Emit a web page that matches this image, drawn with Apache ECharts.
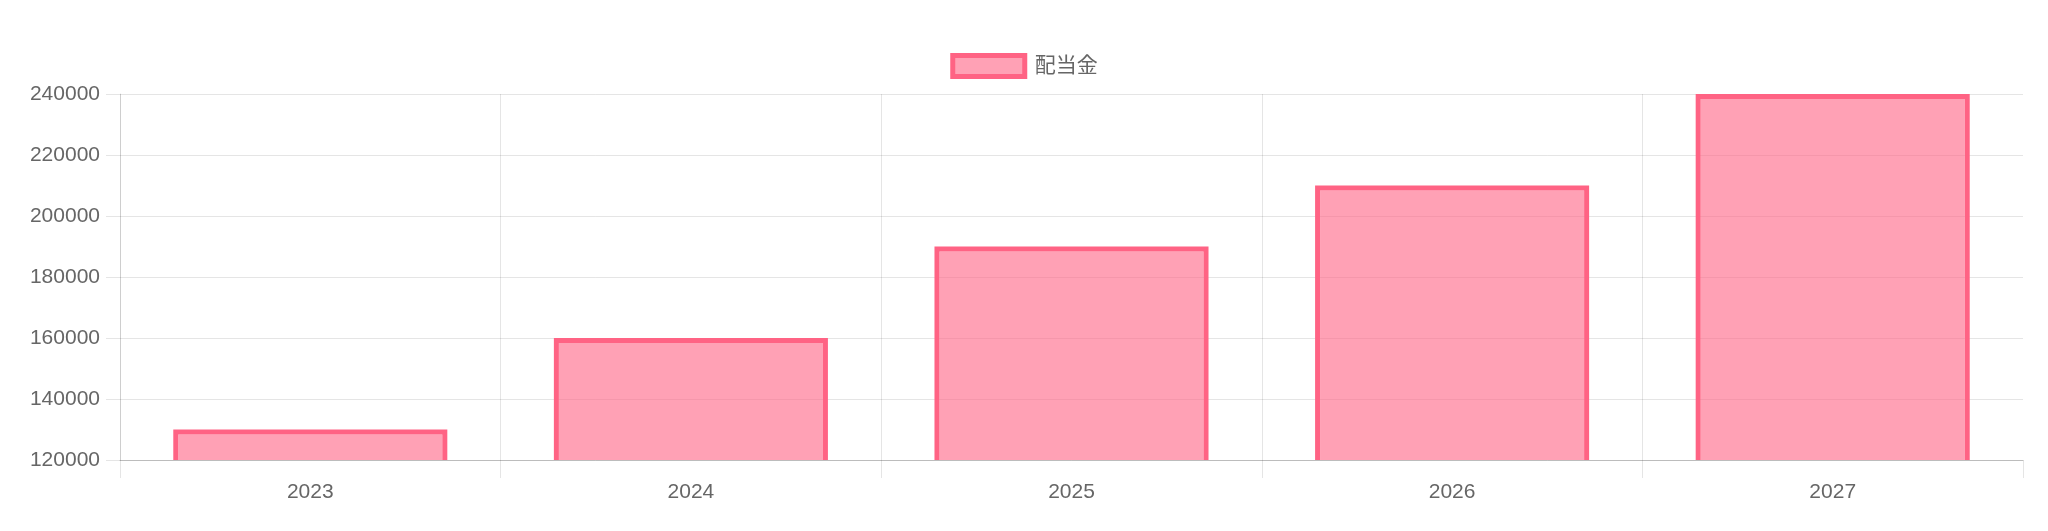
<!DOCTYPE html>
<html>
<head>
<meta charset="utf-8">
<script src="https://cdn.jsdelivr.net/npm/echarts@6/dist/echarts.min.js"></script>
<style>
html,body{margin:0;padding:0;background:#fff;}
#chart{width:2048px;height:531px;}
</style>
</head>
<body>
<div id="chart"></div>
<script>
const categories = ['2023', '2024', '2025', '2026', '2027'];
const dividendValues = [130000, 160000, 190000, 210000, 240000];
const seriesName = '配当金';
const yTicks = { min: 120000, max: 240000, interval: 20000 };

const FILL = 'rgba(255, 99, 132, 0.6)';
const BORDER = 'rgb(255, 99, 132)';
const FONT = "'Helvetica Neue', Helvetica, Arial, 'Liberation Sans', 'Noto Sans CJK JP', sans-serif";
const GRIDC = 'rgba(0,0,0,0.1)';

const chart = echarts.init(document.getElementById('chart'));
chart.setOption({
  animation: false,
  textStyle: { fontFamily: FONT },
  legend: {
    top: 48,
    left: 'center',
    itemWidth: 72,
    itemHeight: 21,
    itemGap: 20,
    textStyle: { color: '#666', fontSize: 21, fontFamily: FONT, padding: [0, 0, 0, 5] },
    data: [{ name: seriesName, icon: 'rect',
      itemStyle: { color: FILL, borderColor: BORDER, borderWidth: 5 } }]
  },
  grid: { left: 120, right: 25, top: 94, bottom: 71, containLabel: false },
  xAxis: {
    type: 'category',
    data: categories,
    boundaryGap: true,
    axisLine: { show: true, lineStyle: { color: 'rgba(0,0,0,0.18)', width: 1 } },
    axisTick: { show: true, length: 18, alignWithLabel: false, lineStyle: { color: GRIDC } },
    axisLabel: { color: '#666', fontSize: 21, margin: 22, fontFamily: FONT },
    splitLine: { show: true, lineStyle: { color: [GRIDC, GRIDC, GRIDC, GRIDC, GRIDC, 'rgba(0,0,0,0)'], width: 1 } }
  },
  yAxis: {
    type: 'value',
    min: yTicks.min,
    max: yTicks.max,
    interval: yTicks.interval,
    axisLine: { show: true, lineStyle: { color: GRIDC, width: 1 } },
    axisTick: { show: true, length: 14, lineStyle: { color: GRIDC } },
    axisLabel: { color: '#666', fontSize: 21, margin: 20, fontFamily: FONT,
      formatter: function (v) { return String(v); } },
    splitLine: { show: true, lineStyle: { color: GRIDC, width: 1 } }
  },
  series: [{
    name: seriesName,
    type: 'custom',
    itemStyle: { color: FILL, borderColor: BORDER, borderWidth: 5 },
    encode: { x: 0, y: 1 },
    data: dividendValues.map((v, i) => [i, v]),
    renderItem: function (params, api) {
      const idx = api.value(0);
      const val = api.value(1);
      const top = api.coord([idx, val]);
      const base = api.coord([idx, yTicks.min]);
      const bw = api.size([1, 0])[0] * 0.72;
      const left = top[0] - bw / 2;
      const right = top[0] + bw / 2;
      const lw = 5;
      return {
        type: 'group',
        children: [
          { type: 'rect',
            shape: { x: left + lw, y: top[1] + lw, width: bw - 2 * lw, height: base[1] - top[1] - lw },
            style: { fill: FILL } },
          { type: 'polyline',
            shape: { points: [[left + lw / 2, base[1]], [left + lw / 2, top[1] + lw / 2],
                              [right - lw / 2, top[1] + lw / 2], [right - lw / 2, base[1]]] },
            style: { stroke: BORDER, lineWidth: lw, fill: null, lineJoin: 'miter' } }
        ]
      };
    }
  }]
});
</script>
</body>
</html>
